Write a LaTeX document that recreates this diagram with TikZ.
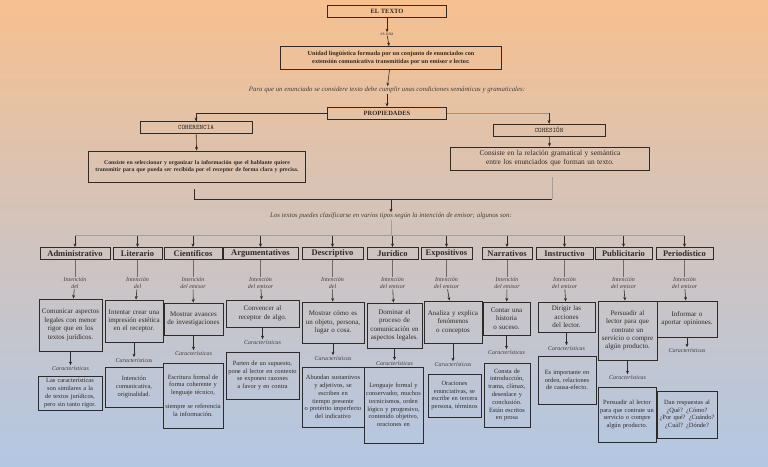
\documentclass[tikz,border=0pt]{standalone}
\usepackage{fontspec}
\setmainfont{Liberation Serif}
\usetikzlibrary{arrows.meta}
\definecolor{bgtop}{HTML}{F7C08F}
\definecolor{bgbot}{HTML}{B3C7E3}
\definecolor{ink}{HTML}{2E2A28}
\newcommand\nohyph{\hyphenpenalty=10000\relax\exhyphenpenalty=10000\relax}
\begin{document}
\begin{tikzpicture}[x=1pt,y=-1pt,
  box/.style={draw=ink, line width=0.9pt, inner sep=1pt, align=center, text=ink},
  cat/.style={box, font=\bfseries\fontsize{8.5}{9}\selectfont, minimum height=12pt, inner sep=0pt},
  txt/.style={box, font=\fontsize{7}{8.4}\selectfont\nohyph},
  lbl/.style={font=\itshape\fontsize{6}{7}\selectfont, text=ink!90, align=center, inner sep=0.5pt},
  arr/.style={draw=ink, line width=0.6pt, -{Stealth[length=3.5pt,width=3pt]}},
  ln/.style={draw=ink, line width=0.9pt}]
\useasboundingbox (0,0) rectangle (768,466);
\shade[top color=bgtop, bottom color=bgbot, middle color=bgtop!45!bgbot] (0,0) rectangle (768,466);

% top part
\node[cat, minimum width=119pt, font=\bfseries\fontsize{6.5}{7}\selectfont] (texto) at (387,11) {EL TEXTO};
\node[lbl, font=\fontsize{5}{6}\selectfont] (esuna) at (387,34) {es una};
\node[box, minimum width=221pt, minimum height=23pt, font=\bfseries\fontsize{6.2}{8}\selectfont] (unidad) at (391,58)
  {Unidad lingüística formada por un conjunto de enunciados con\\ extensión comunicativa transmitidas por un emisor e lector.};
\node[lbl, font=\itshape\fontsize{6.8}{8}\selectfont] (cond) at (387,90)
  {Para que un enunciado se considere texto debe cumplir unas condiciones semánticas y gramaticales:};
\node[cat, minimum width=119pt, font=\bfseries\fontsize{6.5}{7}\selectfont] (prop) at (387,113) {PROPIEDADES};
\node[cat, minimum width=112pt, font=\ttfamily\fontsize{6.8}{7}\selectfont] (coher) at (196,127.5) {COHERENCIA};
\node[cat, minimum width=112pt, font=\ttfamily\fontsize{6.8}{7}\selectfont] (cohes) at (549,130) {COHESIÓN};
\node[box, minimum width=217pt, minimum height=31pt, text width=210pt, font=\bfseries\fontsize{5.8}{7.6}\selectfont\nohyph] (coherd) at (197,166.5)
  {Consiste en seleccionar y organizar la información que el hablante quiere transmitir para que pueda ser recibida por el receptor de forma clara y precisa.};
\node[box, minimum width=199pt, minimum height=23pt, text width=190pt, font=\fontsize{7.4}{9}\selectfont\nohyph] (cohesd) at (550,158.5)
  {Consiste en la relación gramatical y semántica entre los enunciados que forman un texto.};
\node[lbl, font=\itshape\fontsize{6.8}{8}\selectfont] (tipos) at (391,216)
  {Los textos puedes clasificarse en varios tipos según la intención de emisor; algunos son:};
\coordinate (jl) at (194,199);
\coordinate (jr) at (552,199);
\coordinate (bus) at (391,235);

\draw[arr] (texto) -- (esuna);
\draw[arr] (esuna) -- (unidad);
\draw[arr] (unidad) -- (cond);
\draw[arr] (cond) -- (prop);
\draw[ln] (prop.west) -| (coher.north) ;
\draw[arr] (coher.north |- prop.west) -- (coher.north);
\draw[ln, draw=ink!50] (prop.east) -| (cohes.north);
\draw[arr] (cohes.north |- prop.east) -- (cohes.north);
\draw[arr] (coher) -- (coherd);
\draw[arr] (cohes) -- (cohesd);
\draw[ln] (coherd.south -| jl) ++(0,7) -- (jl) -- (jr);
\draw[ln, draw=ink!45] (cohesd.south -| jr) ++(0,7) -- (jr);
\draw[arr] (391,199) -- (tipos);
\draw[ln, draw=ink!45] (tipos) -- (bus);

% types
\foreach \i/\ca/\cb/\cat/\int/\da/\db/\dy/\dz/\dt/\ky/\ea/\eb/\ey/\ez/\et in {%
 1/40/110/Administrativo/{Intención\\del}/39/102/299/351/{Comunicar aspectos legales con menor rigor que en los textos jurídicos.}/368/38/102/376/410/{Las características son similares a la de textos jurídicos, pero sin tanto rigor.},%
 2/113/162/Literario/{Intención\\del}/105/163/300/342/{Intentar crear una impresión estética en el receptor.}/360/105/163/367/407/{Intención comunicativa, originalidad.\\[14pt]},%
 3/164/222/Científicos/{Intención\\del emisor}/164/223/303/335/{Mostrar avances de investigaciones}/353/163/223/363/428/{Escritura formal de forma coherente y lenguaje técnico,\\[6pt] siempre se referencia la información.},%
 4/223/298/Argumentativos/{Intención\\del emisor}/226/299/300/327/{Convencer al receptor de algo.}/342/226/299/352/399/{Parten de un supuesto, pone al lector en contexto se exponen razones a favor y en contra},%
 5/302/363/Descriptivo/{Intención\\del}/302/364/302/343/{Mostrar cómo es un objeto, persona, lugar o cosa.}/358/302/364/367/427/{Abundan sustantivos y adjetivos, se escriben en tiempo presente o pretérito imperfecto del indicativo},%
 6/367/418/Jurídico/{Intención\\del emisor}/367/422/303/348/{Dominar el proceso de comunicación en aspectos legales.}/363/364/423/367/443/{Lenguaje formal y conservador, muchos tecnicismos, orden lógico y progresivo, contenido objetivo, oraciones en},%
 7/421/472/Expositivos/{Intención\\del emisor}/424/482/301/343/{Analiza y explica fenómenos o conceptos}/364/428/481/374/417/{Oraciones enunciativas, se escribe en tercera persona, términos},%
 8/482/532/Narrativos/{Intención\\del emisor}/483/530/302/335/{Contar una historia o suceso.}/352/484/530/363/427/{Consta de introducción, trama, clímax, desenlace y conclusión. Están escritos en prosa},%
 9/536/593/Instructivo/{Intención\\del emisor}/538/595/302/332/{Dirigir las acciones del lector.}/348/538/596/356/404/{Es importante en orden, relaciones de causa-efecto.},%
 10/595/652/Publicitario/{Intención\\del emisor}/598/657/301/360/{Persuadir al lector para que contrate un servicio o compre algún producto.}/377/598/656/387/442/{Persuadir al lector para que contrate un servicio o compre algún producto.},%
 11/656/713/Periodístico/{Intención\\del emisor}/657/717/301/337/{Informar o aportar opiniones.}/350/657/717/391/438/{Dan respuestas al ¿Qué? ¿Cómo? ¿Por qué? ¿Cuándo? ¿Cuál? ¿Dónde?}%
}{
  \node[cat, minimum width={\cb-\ca}] (c\i) at ({(\ca+\cb)/2},253.5) {\cat};
  \node[lbl] (i\i) at ({(\ca+\cb)/2},283) {\int};
  \node[txt, minimum width={\db-\da}, minimum height={\dz-\dy}, text width={\db-\da-3}] (d\i) at ({(\da+\db)/2},{(\dy+\dz)/2}) {\dt};
  \node[lbl] (k\i) at ({(\da+\db)/2},\ky) {Características};
  \node[txt, minimum width={\eb-\ea}, minimum height={\ez-\ey}, text width={\eb-\ea-3}, font=\fontsize{6.4}{7.8}\selectfont\nohyph] (e\i) at ({(\ea+\eb)/2},{(\ey+\ez)/2}) {\et};
  \draw[arr] (c\i.north |- bus) -- (c\i.north);
  \draw[ln, draw=ink!70] (c\i) -- (i\i);
  \draw[arr] (i\i) -- (d\i);
  \draw[arr] (d\i) -- (k\i);
}
\draw[ln, draw=ink!45] (c1.north |- bus) -- (c11.north |- bus);
\end{tikzpicture}
\end{document}
